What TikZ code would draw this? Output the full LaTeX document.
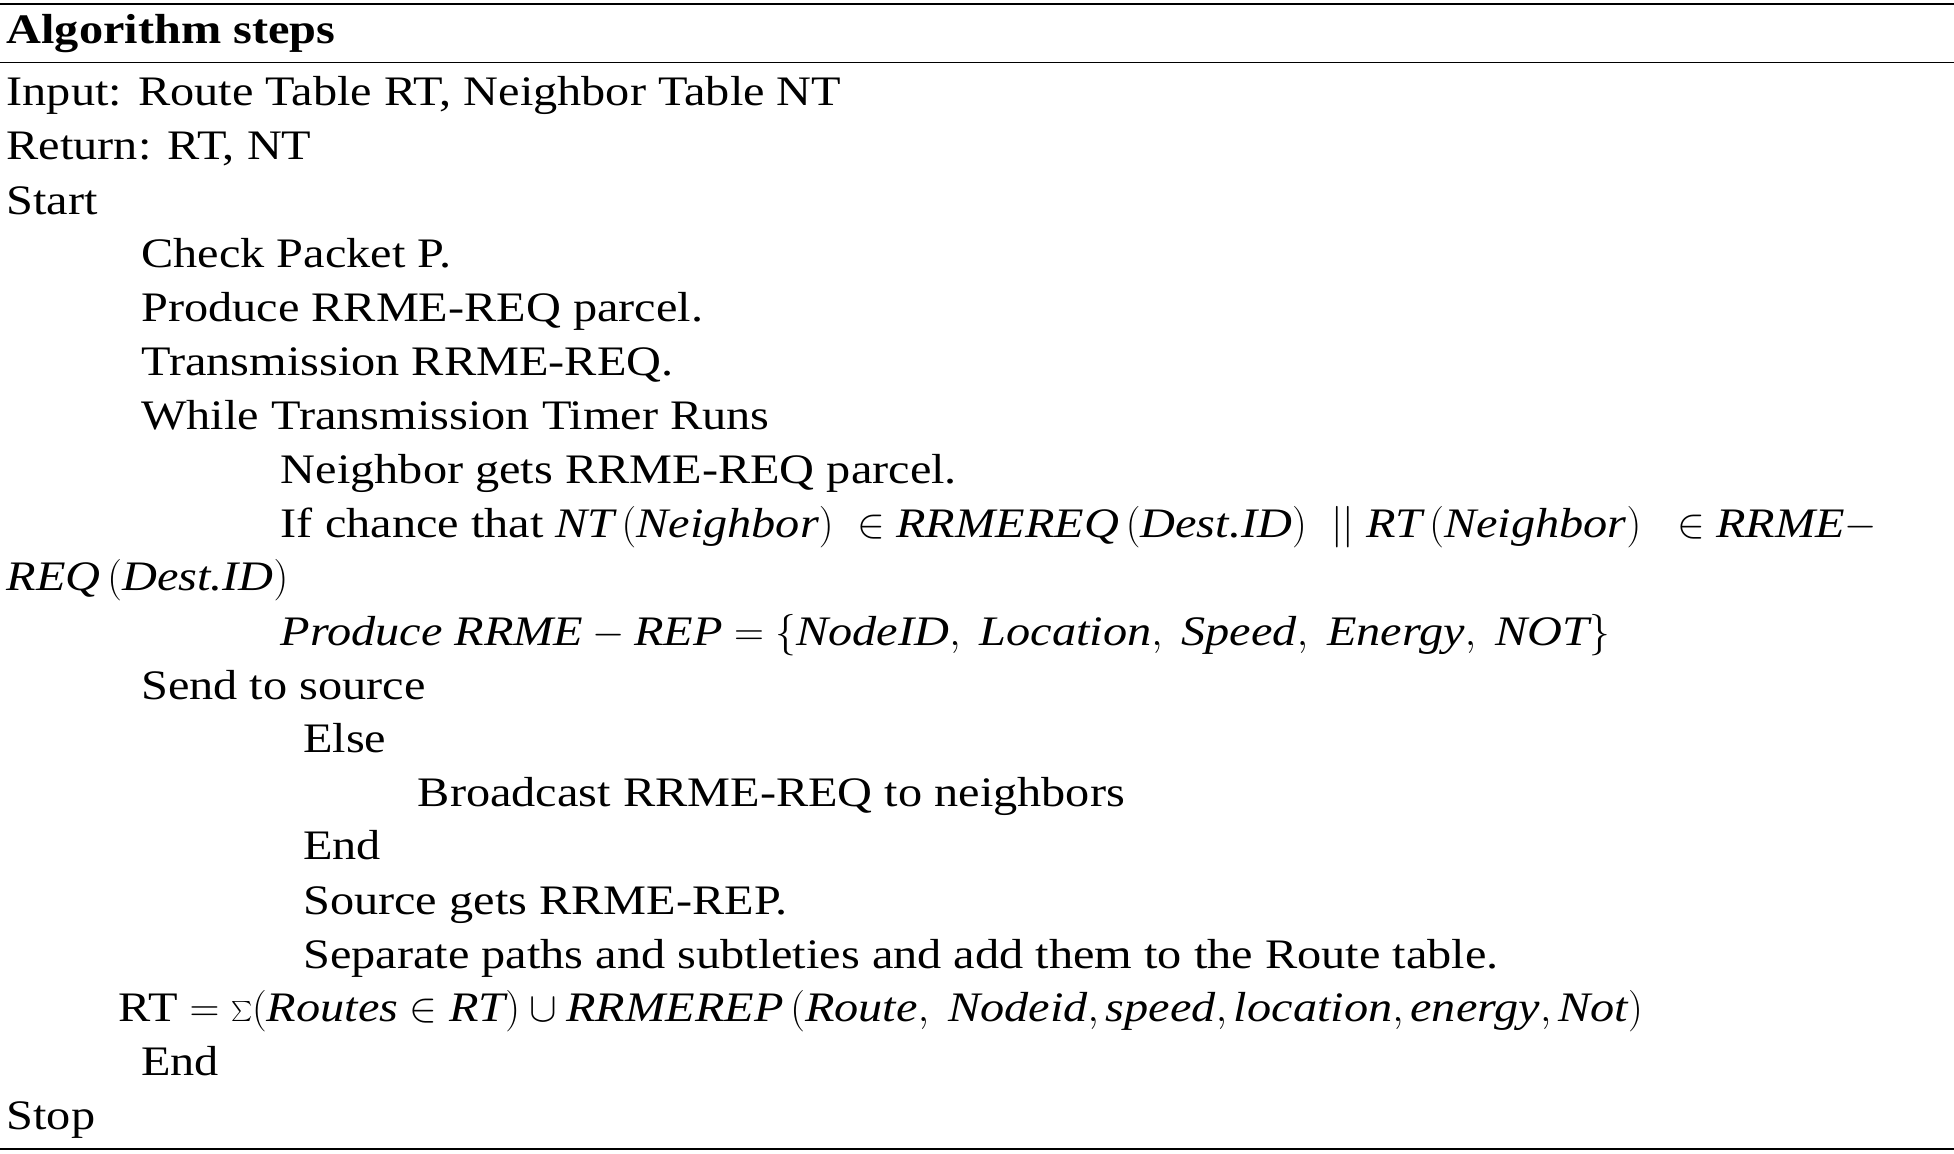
\documentclass[tikz,border=0pt]{standalone}
\usepackage{fontspec}
\setmainfont{Liberation Serif}[FakeStretch=1.15]
\newcommand{\iw}[1]{\textit{#1}}
\begin{document}
\begin{tikzpicture}[x=0.623pt,y=-0.623pt,
  tl/.style={anchor=base west,inner sep=0pt,font=\fontsize{21}{25}\selectfont},
  rule/.style={line width=0.8pt}]
\useasboundingbox (0,0) rectangle (1568,926);
\coordinate (r1a) at (0,3); \coordinate (r1b) at (1568,3);
\coordinate (r2a) at (0,50); \coordinate (r2b) at (1568,50);
\coordinate (r3a) at (0,922); \coordinate (r3b) at (1568,922);
\draw[rule] (r1a) -- (r1b); \draw[rule] (r2a) -- (r2b); \draw[rule] (r3a) -- (r3b);
\node[tl] (t0) at (5,35) {\textbf{Algorithm steps}};
\node[tl] (t1) at (5,85) {Input: Route Table RT, Neighbor Table NT};
\node[tl] (t2) at (5,128) {Return: RT, NT};
\node[tl] (t3) at (5,172) {Start};
\node[tl] (t4) at (113,215) {Check Packet P.};
\node[tl] (t5) at (113,258) {Produce RRME-REQ parcel.};
\node[tl] (t6) at (113,301) {Transmission RRME-REQ.};
\node[tl] (t7) at (113,345) {While Transmission Timer Runs};
\node[tl] (t8) at (225,388) {Neighbor gets RRME-REQ parcel.};
\node[tl] (t9) at (225,431) {If chance that $\iw{NT}\,(\iw{Neighbor})\ \in \iw{RRMEREQ}\,(\iw{Dest.ID})\ \ ||\ \iw{RT}\,(\iw{Neighbor})\ \ \in \iw{RRME}-$};
\node[tl] (t10) at (5,474) {$\iw{REQ}\,(\iw{Dest.ID})$};
\node[tl] (t11) at (225,518) {$\iw{Produce}\ \iw{RRME}-\iw{REP}=\{\iw{NodeID},\ \iw{Location},\ \iw{Speed},\ \iw{Energy},\ \iw{NOT}\}$};
\node[tl] (t12) at (113,561) {Send to source};
\node[tl] (t13) at (243,604) {Else};
\node[tl] (t14) at (335,647) {Broadcast RRME-REQ to neighbors};
\node[tl] (t15) at (243,690) {End};
\node[tl] (t16) at (243,734) {Source gets RRME-REP.};
\node[tl] (t17) at (243,777) {Separate paths and subtleties and add them to the Route table.};
\node[tl] (t18) at (95,820) {RT $=\mathop{\textstyle\sum}(\iw{Routes}\in \iw{RT})\cup \iw{RRMEREP}\,(\iw{Route},\ \iw{Nodeid}, \iw{speed}, \iw{location}, \iw{energy}, \iw{Not})$};
\node[tl] (t19) at (113,863) {End};
\node[tl] (t20) at (5,906) {Stop};
\end{tikzpicture}
\end{document}
